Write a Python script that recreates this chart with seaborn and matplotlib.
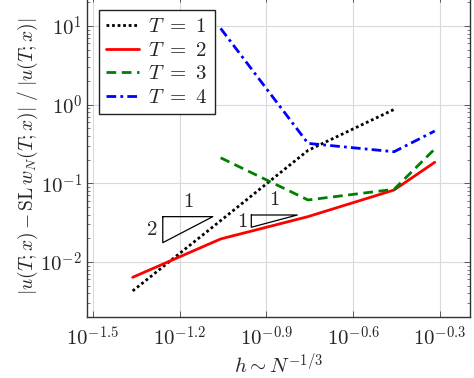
import matplotlib
matplotlib.use('Agg')
import matplotlib.pyplot as plt
import seaborn as sns
import numpy as np

# mesh widths h ~ N^(-1/3) (log10 values)
log_h = [-1.362, -1.058, -0.756, -0.4585, -0.318]
h = [10 ** v for v in log_h]

# relative errors for each final time T
err_t1 = [0.00428, 0.0335, 0.262, 0.87]
err_t2 = [0.00638, 0.0196, 0.0377, 0.0822, 0.185]
err_t3 = [0.211, 0.0614, 0.0839, 0.273]
err_t4 = [9.33, 0.322, 0.252, 0.462]

h_t1 = h[:4]
h_t2 = h
h_t3 = h[1:]
h_t4 = h[1:]

x_ticks = [-1.5, -1.2, -0.9, -0.6, -0.3]
y_ticks = [-2, -1, 0, 1]

sns.set_theme()
sns.set_style("whitegrid")
plt.rcParams['font.family'] = ['DejaVu Serif']
plt.rcParams['mathtext.fontset'] = 'cm'

FS = 15

fig = plt.figure(figsize=(4.74, 3.78), dpi=100)
ax = fig.add_axes([0.1835, 0.1614, 0.8081, 0.8486])
ax.set_xscale('log')
ax.set_yscale('log')

sns.lineplot(x=h_t1, y=err_t1, ax=ax, color='black', linestyle=(0, (1, 1)), linewidth=2.0, label=r'$T\ =\ 1$')
sns.lineplot(x=h_t2, y=err_t2, ax=ax, color='#ff0000', linestyle='-', linewidth=2.0, label=r'$T\ =\ 2$')
sns.lineplot(x=h_t3, y=err_t3, ax=ax, color='#008000', linestyle=(0, (3.5, 2)), linewidth=2.0, label=r'$T\ =\ 3$')
sns.lineplot(x=h_t4, y=err_t4, ax=ax, color='#0000ff', linestyle=(0, (3.5, 1.5, 1, 1.5)), linewidth=2.0, label=r'$T\ =\ 4$')

# slope triangles (order 2 and order 1)
tri2_x = [10 ** -1.258, 10 ** -1.085, 10 ** -1.258, 10 ** -1.258]
tri2_y = [10 ** -1.424, 10 ** -1.424, 10 ** -1.755, 10 ** -1.424]
tri1_x = [10 ** -0.952, 10 ** -0.793, 10 ** -0.952, 10 ** -0.952]
tri1_y = [10 ** -1.403, 10 ** -1.403, 10 ** -1.559, 10 ** -1.403]
ax.plot(tri2_x, tri2_y, color='black', linewidth=0.9)
ax.plot(tri1_x, tri1_y, color='black', linewidth=0.9)
ax.text(10 ** -1.171, 10 ** -1.35, r'$1$', fontsize=FS, ha='center', va='bottom')
ax.text(10 ** -1.275, 10 ** -1.59, r'$2$', fontsize=FS, ha='right', va='center')
ax.text(10 ** -0.872, 10 ** -1.33, r'$1$', fontsize=FS, ha='center', va='bottom')
ax.text(10 ** -0.965, 10 ** -1.48, r'$1$', fontsize=FS, ha='right', va='center')

ax.set_xlim(10 ** -1.52, 10 ** -0.196)
ax.set_ylim(10 ** -2.70, 10 ** 1.379)

ax.set_xticks([10 ** v for v in x_ticks])
ax.set_xticklabels([r'$10^{%g}$' % v for v in x_ticks])
ax.xaxis.set_minor_locator(matplotlib.ticker.NullLocator())
ax.set_yticks([10.0 ** v for v in y_ticks])
ax.set_yticklabels([r'$10^{%d}$' % v for v in y_ticks])
ax.yaxis.set_minor_locator(matplotlib.ticker.LogLocator(base=10, subs=np.arange(2, 10)))
ax.yaxis.set_minor_formatter(matplotlib.ticker.NullFormatter())

ax.tick_params(axis='both', which='both', direction='in', labelsize=FS,
               left=True, right=True, bottom=True, top=True, color='#444444')
ax.tick_params(which='major', length=4, width=0.6)
ax.tick_params(which='minor', length=2.5, width=0.5)
ax.tick_params(axis='x', pad=6)

ax.grid(True, which='major', color='#d9d9d9', linewidth=0.8)
ax.grid(False, which='minor')
ax.set_facecolor('white')
for sp in ax.spines.values():
    sp.set_color('#333333')
    sp.set_linewidth(1.0)

ax.set_xlabel(r'$h \sim N^{-1/3}$', fontsize=FS, labelpad=2)
ax.set_ylabel(r'$|u(T;x) - \mathrm{SL}\, w_N(T;x)|\ /\ |u(T;x)|$', fontsize=14, labelpad=0)

leg = ax.legend(loc='upper left', bbox_to_anchor=(0.0305, 0.957), borderaxespad=0,
                fontsize=FS, frameon=True, fancybox=False, edgecolor='#222222',
                handlelength=1.6, handletextpad=0.4, labelspacing=0.22,
                borderpad=0.35, framealpha=1)
leg.get_frame().set_linewidth(1.0)

fig.savefig('out.png', dpi=100)
plt.close(fig)
